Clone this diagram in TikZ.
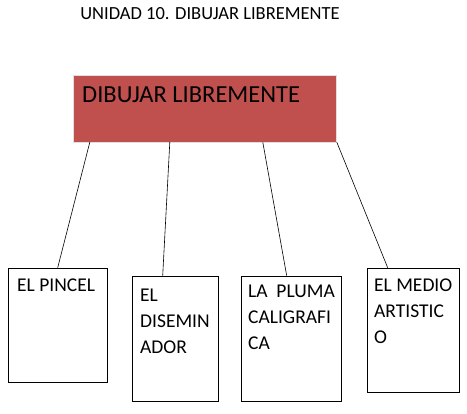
\documentclass[tikz,border=0pt]{standalone}
\usepackage{fontspec}
\setmainfont{Carlito}
\definecolor{boxred}{HTML}{C0504D}
\tikzset{
  caja/.style={draw,semithick,inner sep=0pt},
  rotulo/.style={inner sep=0pt,anchor=north west,align=left,font=\fontsize{19.5}{26}\selectfont}
}

\begin{document}
\begin{tikzpicture}[x=1pt,y=-1pt]
\useasboundingbox (0,0) rectangle (467,414);
\node[inner sep=0pt,anchor=north,font=\fontsize{18.5}{22}\selectfont] (titulo)at(210,7){UNIDAD 10. DIBUJAR LIBREMENTE};
\node[draw=gray!25,fill=boxred,inner sep=0pt,minimum width=263pt,minimum height=67pt] (main)at(204.5,108.5){};
\node[inner sep=0pt,anchor=north west,font=\fontsize{24.5}{30}\selectfont] (maintxt)at(82,87){DIBUJAR LIBREMENTE};
\node[caja,minimum width=99pt,minimum height=114pt] (pincel)at(57.5,325){};
\node[caja,minimum width=86pt,minimum height=125pt] (disem)at(175,338.5){};
\node[caja,minimum width=100pt,minimum height=125pt] (pluma)at(291,338.5){};
\node[caja,minimum width=92pt,minimum height=124pt] (medio)at(413,330){};
\node[rotulo] (t1)at(17,279){EL PINCEL};
\node[rotulo] (t2)at(140,289){EL\\DISEMIN\\ADOR};
\node[rotulo] (t3)at(248,285){LA\ \ PLUMA\\CALIGRAFI\\CA};
\node[rotulo] (t4)at(374,279){EL\ MEDIO\\ARTISTIC\\O};
\draw[semithick] ([xshift=17pt]main.south west) -- ([xshift=50pt]pincel.north west);
\draw[semithick] ([xshift=97pt]main.south west) -- ([xshift=31pt]disem.north west);
\draw[semithick] ([xshift=190pt]main.south west) -- ([xshift=46pt]pluma.north west);
\draw[semithick] ([xshift=264pt]main.south west) -- ([xshift=21pt]medio.north west);
\end{tikzpicture}
\end{document}
